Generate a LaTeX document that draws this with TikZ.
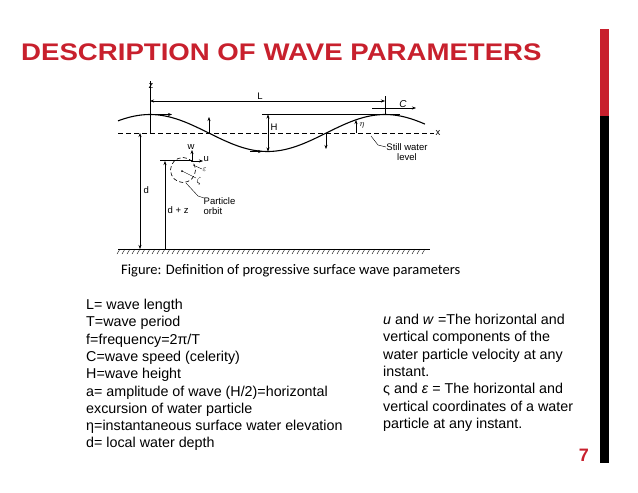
\documentclass[tikz,border=0pt]{standalone}
\usepackage{fontspec}
\setmainfont{Liberation Sans}
\newfontfamily\capfont{Carlito}
\usetikzlibrary{arrows.meta,patterns}
\definecolor{slidered}{RGB}{200,32,45}
\begin{document}
\begin{tikzpicture}[x=1pt,y=-1pt,
  dim/.style={-{Stealth[length=4pt,width=3pt]},line width=0.5pt},
  ddim/.style={{Stealth[length=4pt,width=3pt]}-{Stealth[length=4pt,width=3pt]},line width=0.5pt},
  lbl/.style={font=\fontsize{9.5}{10}\selectfont,inner sep=0.5pt},
  body/.style={font=\fontsize{14.3}{17.3}\selectfont,align=left,anchor=north west,inner sep=0}]
\useasboundingbox (0,0) rectangle (638,493);
\fill[white] (0,0) rectangle (638,493);
% title and bar
\node[anchor=west,inner sep=0,text=slidered,font=\fontsize{24}{26}\selectfont\bfseries,xscale=1.15] (title) at (21,52) {DESCRIPTION OF WAVE PARAMETERS};
\fill[slidered] (600,29) rectangle (609,116);
\fill[black] (600,116) rectangle (609,463);
\node[text=slidered,font=\fontsize{18}{20}\selectfont\bfseries,inner sep=0] (pg) at (584,455) {7};
% axes
\coordinate (zt) at (150,81); \coordinate (zb) at (150,133);
\draw[line width=0.5pt] (zt) -- (zb);
\node[lbl,anchor=south] (zl) at (151,89) {z};
\draw[dashed,dash pattern=on 5pt off 3pt,line width=0.5pt] (118,133) -- (434,133);
\node[lbl,anchor=west] (xl) at (435,133) {x};
% wave
\draw[line width=1.1pt,domain=118:425,samples=80,smooth] plot (\x,{133-18.5*cos((\x-150)/235*360)});
% L
\coordinate (La) at (150,101); \coordinate (Lb) at (385,101);
\draw[ddim] (La) -- (Lb);
\draw[line width=0.5pt] (385,96) -- (385,114);
\node[lbl,anchor=south] (Ll) at (260,100) {L};
% C
\coordinate (Ca) at (372,108); \coordinate (Cb) at (416,108);
\draw[dim] (Ca) -- (Cb);
\node[lbl,anchor=south,font=\fontsize{10}{10}\selectfont\itshape] (Cl) at (403,108) {C};
% H
\draw[line width=0.5pt] (262,114.5) -- (400,114.5);
\coordinate (Ht) at (268,114.5); \coordinate (Hb) at (268,151.5);
\draw[ddim] (Ht) -- (Hb);
\node[lbl,anchor=west] (Hl) at (270,127) {H};
% eta
\draw[dim] (356,133) -- (356,120);
\node[lbl,anchor=west] (el) at (359,125) {$\eta$};
% particle velocity arrows on surface
\draw[dim] (209,133) -- (209,117);
\draw[dim] (326,133) -- (326,149);
\draw[dim] (150,114.5) -- (172,114.5);
\draw[dim] (250,151.5) -- (262,151.5);
% still water level
\node[lbl,align=center] (swl) at (407,152) {Still water\\level};
\draw[line width=0.4pt] (371,136) -- (378,145) -- (386,147);
% bed
\draw[line width=0.8pt] (118,249) -- (430,249);
\foreach \i in {120,125,...,428} \draw[line width=0.4pt] (\i,249) -- (\i-3,254);
% d
\draw[ddim] (140,133) -- (140,249);
\node[lbl,anchor=west] (dl) at (143,190) {d};
% particle
\draw[dashed,dash pattern=on 4pt off 2.5pt,line width=0.6pt] (183,170) circle (12.5);
\fill (182,171) circle (1);
\fill (192,161) circle (1.2);
\draw[line width=0.5pt] (160,160.5) -- (192,160.5);
\draw[dim] (192,161) -- (192,150);
\node[lbl,anchor=south] (wl) at (191,150) {w};
\draw[dim] (192,161) -- (203,161);
\node[lbl,anchor=west] (ul) at (203,159) {u};
\draw[line width=0.4pt] (193,165) -- (202,169);
\node[lbl,anchor=west,font=\fontsize{8}{8}\selectfont] (epl) at (202,170) {$\varepsilon$};
\draw[line width=0.4pt] (182,171) -- (196,178);
\node[lbl,anchor=west] (zetal) at (196,181) {$\zeta$};
\draw[dim] (165,249) -- (165,161);
\node[lbl,anchor=west] (dzl) at (167,210) {d + z};
\draw[line width=0.4pt] (186,183) -- (198,196) -- (204,198);
\node[lbl,anchor=west,align=left] (po) at (203,206) {Particle\\orbit};
% caption
\node[anchor=west,inner sep=0,font=\capfont\fontsize{14.5}{16}\selectfont] (cap) at (121,271) {Figure: Definition of progressive surface wave parameters};
% left column
\node[body] (left) at (86,299) {L= wave length\\T=wave period\\f=frequency=2\char"03C0/T\\C=wave speed (celerity)\\H=wave height\\a= amplitude of wave (H/2)=horizontal\\excursion of water particle\\\char"03B7=instantaneous surface water elevation\\d= local water depth};
\node[body] (right) at (383,314) {\textit{u} and \textit{w} =The horizontal and\\vertical components of the\\water particle velocity at any\\instant.\\\char"03C2{} and \textit{\char"03B5} = The horizontal and\\vertical coordinates of a water\\particle at any instant.};
\end{tikzpicture}
\end{document}
